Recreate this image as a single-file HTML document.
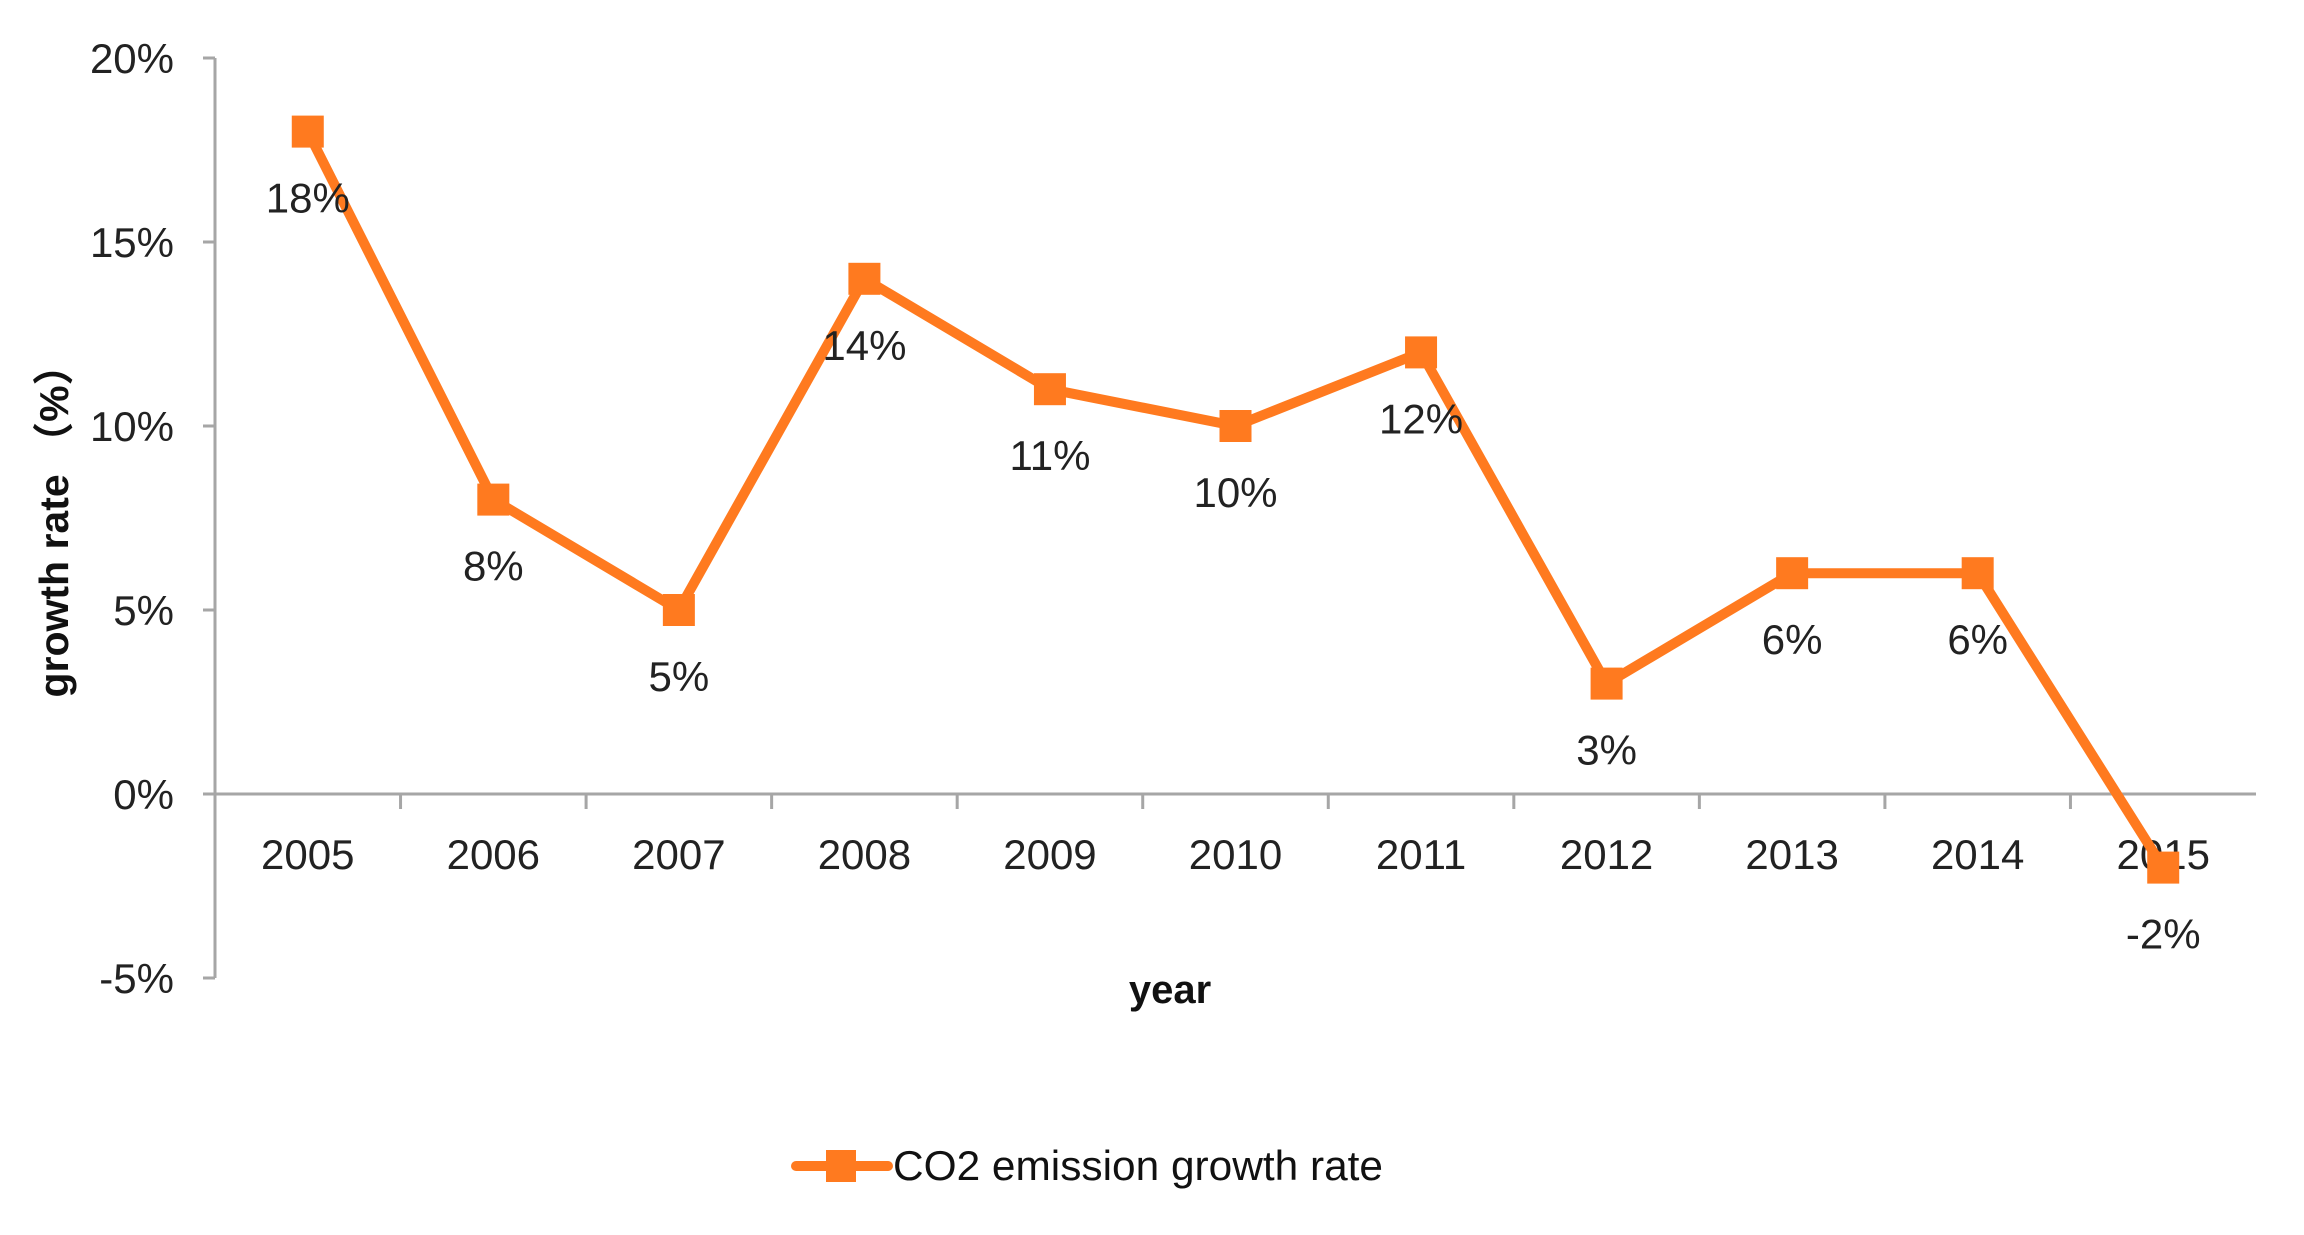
<!DOCTYPE html>
<html><head><meta charset="utf-8"><style>
html,body{margin:0;padding:0;background:#fff;}
svg{display:block;font-family:"Liberation Sans",sans-serif;}
</style></head><body>
<svg id="chart" width="2304" height="1235" viewBox="0 0 2304 1235" xmlns="http://www.w3.org/2000/svg">
<g id="axes"></g>
<g id="series"></g>
<text x="1170" y="1003" font-size="40" font-weight="bold" text-anchor="middle" fill="#111">year</text>
<text transform="translate(68,521) rotate(-90)" font-size="41" font-weight="bold" text-anchor="middle" fill="#111" font-family="'Liberation Sans','Noto Sans CJK SC',sans-serif">growth rate （%）</text>
<g>
<line x1="796" y1="1166" x2="888" y2="1166" stroke="#FF7A1F" stroke-width="10" stroke-linecap="round"/>
<rect x="826" y="1150" width="30" height="32" fill="#FF7A1F"/>
<text x="893" y="1180" font-size="42" fill="#111" textLength="490" lengthAdjust="spacingAndGlyphs">CO2 emission growth rate</text>
</g>
</svg>
<script>
const categories = ["2005","2006","2007","2008","2009","2010","2011","2012","2013","2014","2015"];
const values = [18, 8, 5, 14, 11, 10, 12, 3, 6, 6, -2];
const yTicks = [20, 15, 10, 5, 0, -5];

const NS = "http://www.w3.org/2000/svg";
const X0 = 215, X1 = 2256, Y0pct = 794, pxPer5 = 184;
const step = (X1 - X0) / categories.length;
function xPos(i){ return X0 + step * (i + 0.5); }
function yPos(v){ return Y0pct - v / 5 * pxPer5; }
function mk(tag, attrs, parent){ const e = document.createElementNS(NS, tag); for (const k in attrs) e.setAttribute(k, attrs[k]); parent.appendChild(e); return e; }

const axes = document.getElementById('axes');
const yAxis = mk('line', {x1:X0, y1:yPos(20), x2:X0, y2:yPos(-5), stroke:'#a6a6a6', 'stroke-width':3}, axes);


const xAxis = mk('line', {x1:X0-12, y1:yPos(0), x2:X1, y2:yPos(0), stroke:'#a6a6a6', 'stroke-width':3}, axes);


yTicks.forEach(t => {
  mk('line', {x1:X0-12, y1:yPos(t), x2:X0, y2:yPos(t), stroke:'#a6a6a6', 'stroke-width':3}, axes);
  const lb = mk('text', {x:174, y:yPos(t)+15, 'font-size':42, 'text-anchor':'end', fill:'#222'}, axes);
  lb.textContent = t + '%';
  
  
});
for (let i = 1; i < categories.length; i++) {
  mk('line', {x1:X0+step*i, y1:yPos(0), x2:X0+step*i, y2:yPos(0)+15, stroke:'#a6a6a6', 'stroke-width':3}, axes);
}
categories.forEach((c, i) => {
  const lb = mk('text', {x:xPos(i), y:869, 'font-size':42, 'text-anchor':'middle', fill:'#222'}, axes);
  lb.textContent = c;
  
  
});

const series = document.getElementById('series');
const pts = values.map((v, i) => xPos(i) + ',' + yPos(v)).join(' ');
const line = mk('polyline', {points:pts, fill:'none', stroke:'#FF7A1F', 'stroke-width':10, 'stroke-linejoin':'round'}, series);


values.forEach((v, i) => {
  const m = mk('rect', {x:xPos(i)-16, y:yPos(v)-16, width:32, height:32, fill:'#FF7A1F'}, series);
  
  
  const lb = mk('text', {x:xPos(i), y:yPos(v)+81, 'font-size':42, 'text-anchor':'middle', fill:'#222'}, series);
  lb.textContent = v + '%';
  
  
});
</script>
</body></html>
